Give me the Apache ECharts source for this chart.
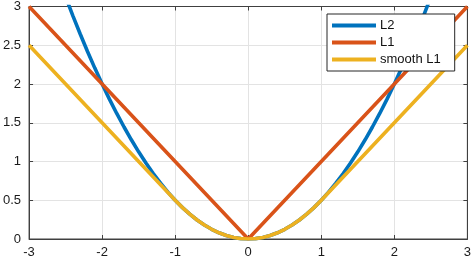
<!DOCTYPE html>
<html><head><meta charset="utf-8">
<script src="https://cdn.jsdelivr.net/npm/echarts@6/dist/echarts.min.js"></script>
<style>html,body{margin:0;padding:0;background:#fff}#c{width:474px;height:265px}</style>
</head><body><div id="c"></div>
<script>
const xs = [-3,-2.9,-2.8,-2.7,-2.6,-2.5,-2.4,-2.3,-2.2,-2.1,-2,-1.9,-1.8,-1.7,-1.6,-1.5,-1.4,-1.3,-1.2,-1.1,-1,-0.9,-0.8,-0.7,-0.6,-0.5,-0.4,-0.3,-0.2,-0.1,0,0.1,0.2,0.3,0.4,0.5,0.6,0.7,0.8,0.9,1,1.1,1.2,1.3,1.4,1.5,1.6,1.7,1.8,1.9,2,2.1,2.2,2.3,2.4,2.5,2.6,2.7,2.8,2.9,3];
const l2 = [4.5,4.205,3.92,3.645,3.38,3.125,2.88,2.645,2.42,2.205,2,1.805,1.62,1.445,1.28,1.125,0.98,0.845,0.72,0.605,0.5,0.405,0.32,0.245,0.18,0.125,0.08,0.045,0.02,0.005,0,0.005,0.02,0.045,0.08,0.125,0.18,0.245,0.32,0.405,0.5,0.605,0.72,0.845,0.98,1.125,1.28,1.445,1.62,1.805,2,2.205,2.42,2.645,2.88,3.125,3.38,3.645,3.92,4.205,4.5];
const l1 = [3,2.9,2.8,2.7,2.6,2.5,2.4,2.3,2.2,2.1,2,1.9,1.8,1.7,1.6,1.5,1.4,1.3,1.2,1.1,1,0.9,0.8,0.7,0.6,0.5,0.4,0.3,0.2,0.1,0,0.1,0.2,0.3,0.4,0.5,0.6,0.7,0.8,0.9,1,1.1,1.2,1.3,1.4,1.5,1.6,1.7,1.8,1.9,2,2.1,2.2,2.3,2.4,2.5,2.6,2.7,2.8,2.9,3];
const smoothL1 = [2.5,2.4,2.3,2.2,2.1,2,1.9,1.8,1.7,1.6,1.5,1.4,1.3,1.2,1.1,1,0.9,0.8,0.7,0.6,0.5,0.405,0.32,0.245,0.18,0.125,0.08,0.045,0.02,0.005,0,0.005,0.02,0.045,0.08,0.125,0.18,0.245,0.32,0.405,0.5,0.6,0.7,0.8,0.9,1,1.1,1.2,1.3,1.4,1.5,1.6,1.7,1.8,1.9,2,2.1,2.2,2.3,2.4,2.5];
const seriesNames = ['L2','L1','smooth L1'];
const xTicks = [-3,-2,-1,0,1,2,3];
const yTicks = [0,0.5,1,1.5,2,2.5,3];

const colors = ['#0072BD','#D95319','#EDB120'];
const pair = ys => xs.map((x,i)=>[x, ys[i]]);
const font = 'Liberation Sans, Arial, sans-serif';
const axisCol = '#404040';
const chart = echarts.init(document.getElementById('c'), null, {renderer:'canvas'});
const baseX = {type:'value', min:xTicks[0], max:xTicks[xTicks.length-1], interval:1};
const baseY = {type:'value', min:yTicks[0], max:yTicks[yTicks.length-1], interval:0.5};
chart.setOption({
  animation:false,
  grid:{left:29, right:6, top:2, bottom:26, show:true, borderColor:axisCol, borderWidth:1, backgroundColor:'transparent'},
  xAxis:[
    Object.assign({}, baseX, {position:'bottom',
      axisLine:{show:true, onZero:false, lineStyle:{color:axisCol}},
      axisTick:{show:true, inside:true, length:4, lineStyle:{color:axisCol}},
      axisLabel:{color:'#1a1a1a', fontFamily:font, fontSize:13, margin:7},
      splitLine:{show:true, lineStyle:{color:'#e3e3e3', width:1}}}),
    Object.assign({}, baseX, {position:'top',
      axisLine:{show:true, onZero:false, lineStyle:{color:axisCol}},
      axisTick:{show:true, inside:true, length:4, lineStyle:{color:axisCol}},
      axisLabel:{show:false}, splitLine:{show:false}})
  ],
  yAxis:[
    Object.assign({}, baseY, {position:'left',
      axisLine:{show:true, onZero:false, lineStyle:{color:axisCol}},
      axisTick:{show:true, inside:true, length:4, lineStyle:{color:axisCol}},
      axisLabel:{color:'#1a1a1a', fontFamily:font, fontSize:13, margin:8,
        formatter: v => String(v)},
      splitLine:{show:true, lineStyle:{color:'#e3e3e3', width:1}}}),
    Object.assign({}, baseY, {position:'right',
      axisLine:{show:true, onZero:false, lineStyle:{color:axisCol}},
      axisTick:{show:true, inside:true, length:4, lineStyle:{color:axisCol}},
      axisLabel:{show:false}, splitLine:{show:false}})
  ],
  legend:{
    orient:'vertical', left:327, top:14,
    backgroundColor:'#fff', borderColor:'#262626', borderWidth:1,
    padding:[5,14,5,5], itemGap:4, itemWidth:44, itemHeight:4,
    icon:'rect',
    textStyle:{color:'#111', fontFamily:font, fontSize:13, padding:[0,0,0,-1]},
    data: seriesNames
  },
  series:[
    {name:seriesNames[0], type:'line', data:pair(l2), showSymbol:false, symbol:'none', clip:true, lineStyle:{width:3.6, color:colors[0]}, itemStyle:{color:colors[0]}},
    {name:seriesNames[1], type:'line', data:pair(l1), showSymbol:false, symbol:'none', clip:true, lineStyle:{width:3.6, color:colors[1]}, itemStyle:{color:colors[1]}},
    {name:seriesNames[2], type:'line', data:pair(smoothL1), showSymbol:false, symbol:'none', clip:true, lineStyle:{width:3.6, color:colors[2]}, itemStyle:{color:colors[2]}}
  ]
});
</script></body></html>
